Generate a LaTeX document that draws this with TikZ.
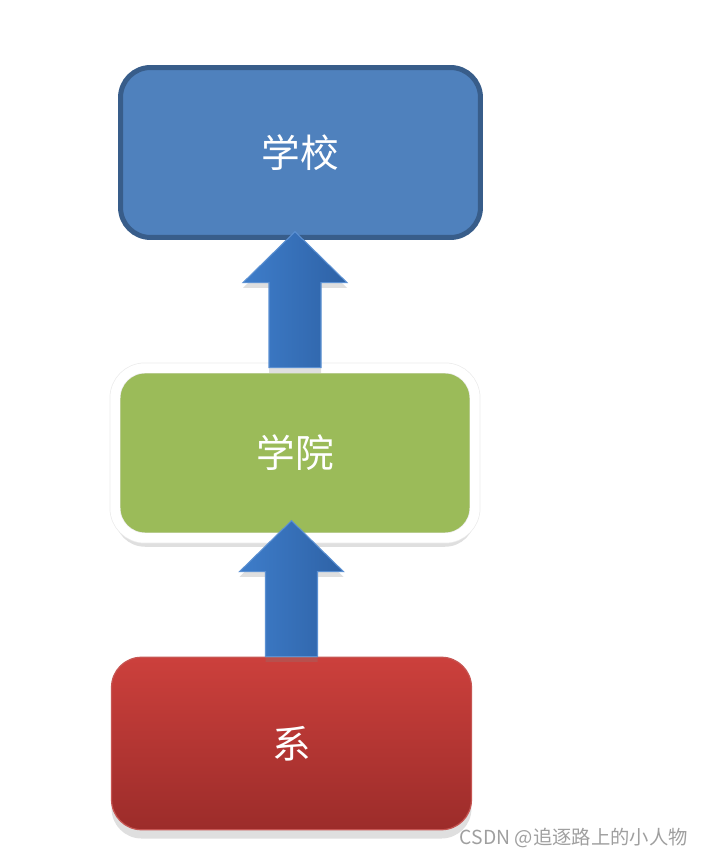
\documentclass[tikz,border=0pt]{standalone}
\usepackage{fontspec}
\newfontfamily\cjk{Noto Sans CJK SC}
\usetikzlibrary{calc, positioning}
\usetikzlibrary{shadows}

\definecolor{schoolfill}{HTML}{4F81BD}
\definecolor{schoolline}{HTML}{385D8A}
\definecolor{collegefill}{HTML}{9BBB59}
\definecolor{depttop}{HTML}{CC403C}
\definecolor{deptbottom}{HTML}{9C2C2A}
\definecolor{deptline}{HTML}{C65552}
\definecolor{arrowleft}{HTML}{3E7DCA}
\definecolor{arrowright}{HTML}{2E62A6}

\tikzset{
  box/.style={rounded corners=0.6cm, minimum width=7.2cm, minimum height=3.4cm,
    text=white, font=\cjk\fontsize{22}{26}\selectfont},
  boxshadow/.style={drop shadow={shadow xshift=0pt, shadow yshift=-5pt, opacity=0.25}},
  upshade/.style={left color=arrowleft, right color=arrowright, draw=arrowleft!85!white,
    line width=0.6pt, drop shadow={shadow xshift=0pt, shadow yshift=-3pt, opacity=0.25}}
}

% block arrow pointing up from the top of a node
\newcommand{\upblock}[1]{%
  \path[upshade] ($(#1.north)+(-26,0)$) -- ++(0,85) -- ++(-26,0) -- ++(52,51)
    -- ++(52,-51) -- ++(-26,0) -- ++(0,-85) -- cycle;}

\begin{document}
\begin{tikzpicture}[x=0.02cm, y=0.02cm]
\useasboundingbox (0,0) rectangle (708,858);

\node[box, fill=schoolfill, draw=schoolline, line width=0.1cm] (school) at (300.5,705.5) {学校};
\node[box, boxshadow, fill=collegefill, draw=black!8, line width=0.4pt,
  double=white, double distance=0.19cm] (college) at (295,405) {学院};
\node[box, boxshadow, minimum height=3.45cm, top color=depttop, bottom color=deptbottom,
  draw=deptline, line width=0.7pt] (dept) at (291.5,114.5) {系};

\upblock{college}
\upblock{dept}

\node[anchor=east, text=gray!75, font=\cjk\fontsize{11}{13}\selectfont] (mark) at (694,20) {CSDN @追逐路上的小人物};

\end{tikzpicture}
\end{document}
